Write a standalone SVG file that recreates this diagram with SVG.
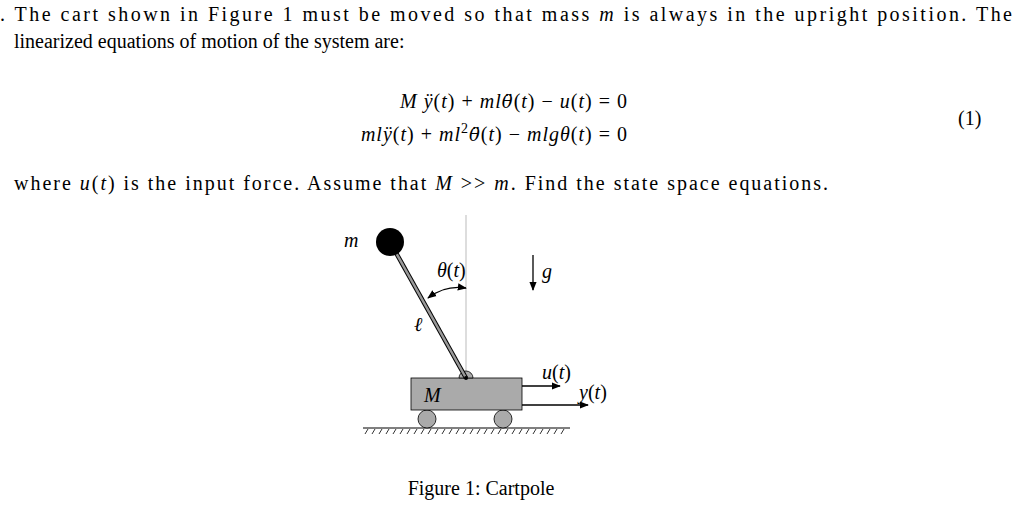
<svg xmlns="http://www.w3.org/2000/svg" width="1028" height="507" viewBox="0 0 1028 507">
<style>
text{font-family:"Liberation Serif","DejaVu Serif",serif;font-size:20px;fill:#000}
.i{font-style:italic}
.d{font-family:"DejaVu Serif",serif;font-style:italic;font-size:18px}
.eq{letter-spacing:1px}
.ln{stroke:#000;stroke-width:1.3;fill:none}
</style>
<defs><marker id="a" viewBox="0 0 10 10" refX="9" refY="5" markerWidth="7" markerHeight="7" orient="auto-start-reverse"><path d="M0,1 L10,5 L0,9 z" fill="#000"/></marker></defs>
<rect width="1028" height="507" fill="#fff"/>
<text x="0" y="21" textLength="1012" lengthAdjust="spacing">. The cart shown in Figure 1 must be moved so that mass <tspan class="i">m</tspan> is always in the upright position.  The</text>
<text x="14" y="48">linearized equations of motion of the system are:</text>
<text x="628" y="108" text-anchor="end" class="eq"><tspan class="i">M</tspan> <tspan class="i">ÿ</tspan>(<tspan class="i">t</tspan>) + <tspan class="i">ml</tspan><tspan class="d">θ̈</tspan>(<tspan class="i">t</tspan>) − <tspan class="i">u</tspan>(<tspan class="i">t</tspan>) = 0</text>
<text x="628" y="141" text-anchor="end" class="eq"><tspan class="i">mlÿ</tspan>(<tspan class="i">t</tspan>) + <tspan class="i">ml</tspan><tspan font-size="14" dy="-8">2</tspan><tspan dy="8" class="d">θ̈</tspan>(<tspan class="i">t</tspan>) − <tspan class="i">mlgθ</tspan>(<tspan class="i">t</tspan>) = 0</text>
<text x="958" y="125">(1)</text>
<text x="14" y="190" textLength="814" lengthAdjust="spacing">where <tspan class="i">u</tspan>(<tspan class="i">t</tspan>) is the input force. Assume that <tspan class="i">M</tspan> &gt;&gt; <tspan class="i">m</tspan>. Find the state space equations.</text>
<g id="vertical"><line x1="466" y1="215" x2="466" y2="378" stroke="#bbb" stroke-width="1"/></g>
<g id="ground"><line x1="363" y1="428" x2="570" y2="428" stroke="#000" stroke-width="1"/>
<path d="M365,434 L368,429 M372,434 L375,429 M379,434 L382,429 M386,434 L389,429 M393,434 L396,429 M400,434 L403,429 M407,434 L410,429 M414,434 L417,429 M421,434 L424,429 M428,434 L431,429 M435,434 L438,429 M442,434 L445,429 M449,434 L452,429 M456,434 L459,429 M463,434 L466,429 M470,434 L473,429 M477,434 L480,429 M484,434 L487,429 M491,434 L494,429 M498,434 L501,429 M505,434 L508,429 M512,434 L515,429 M519,434 L522,429 M526,434 L529,429 M533,434 L536,429 M540,434 L543,429 M547,434 L550,429 M554,434 L557,429 M561,434 L564,429" stroke="#000" stroke-width="0.8"/></g>
<g id="cart">
<circle cx="427" cy="419" r="9" fill="#aaa" stroke="#000" stroke-width="0.8"/>
<circle cx="503" cy="419" r="9" fill="#aaa" stroke="#000" stroke-width="0.8"/>
<rect x="411" y="378" width="111" height="32" fill="#aaa" stroke="#000" stroke-width="0.8"/>
<path d="M459,378 A7,7 0 0 1 473,378 Z" fill="#aaa" stroke="#000" stroke-width="0.8"/>
<text x="424" y="402" class="i">M</text>
</g>
<g id="pendulum">
<line x1="390" y1="242" x2="466" y2="378" stroke="#000" stroke-width="4.5"/>
<line x1="390" y1="242" x2="466" y2="378" stroke="#999" stroke-width="2.5"/>
<circle cx="466" cy="378" r="2" fill="#000"/>
<circle cx="390" cy="242" r="14" fill="#000"/>
<text x="344" y="247" class="i">m</text>
<text x="414" y="331" class="i">ℓ</text>
</g>
<g id="connectors">
<path d="M428,298 Q445,285 466,288" class="ln" marker-start="url(#a)" marker-end="url(#a)"/>
<line x1="533" y1="255" x2="533" y2="290" class="ln" marker-end="url(#a)"/>
<line x1="522" y1="386" x2="560" y2="386" class="ln" marker-end="url(#a)"/>
<line x1="522" y1="405" x2="588" y2="405" class="ln" marker-end="url(#a)"/>
</g>
<text x="437" y="277"><tspan class="i">θ</tspan>(<tspan class="i">t</tspan>)</text>
<text x="542" y="278" class="i">g</text>
<text x="542" y="379"><tspan class="i">u</tspan>(<tspan class="i">t</tspan>)</text>
<text x="579" y="399"><tspan class="i">y</tspan>(<tspan class="i">t</tspan>)</text>
<text x="481" y="495" text-anchor="middle">Figure 1: Cartpole</text>
</svg>
